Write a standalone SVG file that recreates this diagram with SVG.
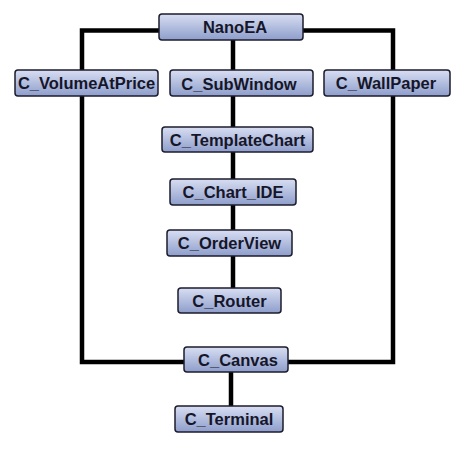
<svg xmlns="http://www.w3.org/2000/svg" width="474" height="474" viewBox="0 0 474 474">
<defs>
<linearGradient id="g" x1="0" y1="0" x2="0" y2="1">
<stop offset="0" stop-color="#d8def2"/>
<stop offset="1" stop-color="#8e9ecb"/>
</linearGradient>
<style>
.b{fill:url(#g);stroke:#1c1c2c;stroke-width:1.5}
.t{font-family:"Liberation Sans",Arial,sans-serif;font-weight:bold;font-size:16.5px;fill:#16162a;text-anchor:middle}
.c{fill:none;stroke:#000;stroke-width:4.5}
</style>
</defs>
<rect width="474" height="474" fill="#fff"/>
<g id="connectors">
<polyline class="c" points="159,30.5 82,30.5 82,362 184,362"/>
<polyline class="c" points="303,30.5 393,30.5 393,362 288,362"/>
<line class="c" x1="233" y1="40" x2="233" y2="288"/>
<line class="c" x1="231" y1="372" x2="231" y2="406"/>
</g>
<g id="NanoEA"><rect class="b" x="159" y="14" width="144" height="26" rx="3"/><text class="t" x="235" y="33">NanoEA</text></g>
<g id="C_VolumeAtPrice"><rect class="b" x="15" y="70" width="143" height="26" rx="3"/><text class="t" x="86.5" y="88.5">C_VolumeAtPrice</text></g>
<g id="C_SubWindow"><rect class="b" x="170" y="70" width="143" height="26" rx="3"/><text class="t" x="239" y="89.5">C_SubWindow</text></g>
<g id="C_WallPaper"><rect class="b" x="324" y="70" width="126" height="26" rx="3"/><text class="t" x="386" y="88.5">C_WallPaper</text></g>
<g id="C_TemplateChart"><rect class="b" x="162" y="127" width="151" height="25" rx="3"/><text class="t" x="237.5" y="145.5">C_TemplateChart</text></g>
<g id="C_Chart_IDE"><rect class="b" x="170" y="179" width="126" height="26" rx="3"/><text class="t" x="233" y="197.5">C_Chart_IDE</text></g>
<g id="C_OrderView"><rect class="b" x="167" y="230" width="125" height="26" rx="3"/><text class="t" x="229.5" y="248.5">C_OrderView</text></g>
<g id="C_Router"><rect class="b" x="178" y="288" width="103" height="25" rx="3"/><text class="t" x="229.5" y="306.5">C_Router</text></g>
<g id="C_Canvas"><rect class="b" x="184" y="347" width="104" height="25" rx="3"/><text class="t" x="238" y="365.5">C_Canvas</text></g>
<g id="C_Terminal"><rect class="b" x="175" y="406" width="108" height="26" rx="3"/><text class="t" x="229" y="424.5">C_Terminal</text></g>
</svg>
